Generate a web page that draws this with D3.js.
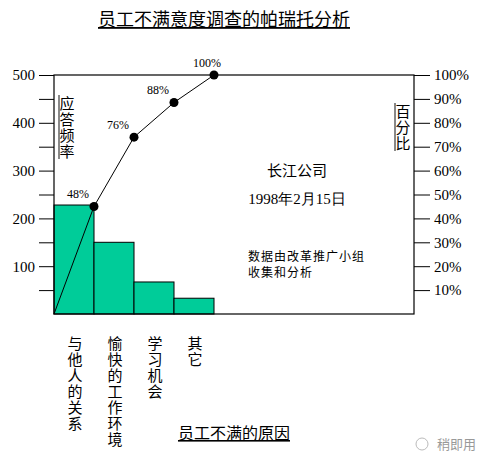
<!DOCTYPE html>
<html>
<head>
<meta charset="utf-8">
<script src="https://cdn.jsdelivr.net/npm/d3@7"></script>
<style>
  body { margin: 0; background: #fff; }
  svg { display: block; }
</style>
</head>
<body>
<svg id="chart"></svg>
<script>
// chart data
const categories = ["与他人的关系", "愉快的工作环境", "学习机会", "其它"];
const counts = [228, 150, 67, 33];
const cumPct = [45, 74, 88.5, 100];
const cumLabels = ["48%", "76%", "88%", "100%"];
const leftTicks = [50, 100, 150, 200, 250, 300, 350, 400, 450, 500];
const leftLabels = [100, 200, 300, 400, 500];
const rightTicks = [10, 20, 30, 40, 50, 60, 70, 80, 90, 100];

const W = 489, H = 466;
const plot = { left: 54, right: 414, top: 75, bottom: 314 };
const cjk = "'Noto Sans CJK SC', sans-serif";
const serif = "'Liberation Serif', 'Times New Roman', serif";

const svg = d3.select("#chart").attr("width", W).attr("height", H);

const x = d3.scaleBand().domain(d3.range(9)).range([plot.left, plot.right]).padding(0);
const yL = d3.scaleLinear().domain([0, 500]).range([plot.bottom, plot.top]);
const yR = d3.scaleLinear().domain([0, 100]).range([plot.bottom, plot.top]);

// title
svg.append("text").attr("x", 224).attr("y", 26).attr("text-anchor", "middle")
   .style("font-family", cjk).style("font-size", "18px")
   .attr("text-decoration", "underline").text("员工不满意度调查的帕瑞托分析");

// bars
svg.selectAll(".bar").data(counts).enter().append("rect")
   .attr("x", (d, i) => x(i)).attr("y", d => yL(d))
   .attr("width", x.bandwidth()).attr("height", d => yL(0) - yL(d))
   .attr("fill", "#00cc99").attr("stroke", "#000").attr("stroke-width", 1);

// plot frame
svg.append("rect").attr("x", plot.left).attr("y", plot.top)
   .attr("width", plot.right - plot.left).attr("height", plot.bottom - plot.top)
   .attr("fill", "none").attr("stroke", "#000").attr("stroke-width", 1.2);

// left axis
const gl = svg.append("g").attr("transform", `translate(${plot.left},0)`)
   .call(d3.axisLeft(yL).tickValues(leftTicks).tickSize(15).tickPadding(4)
      .tickFormat(d => leftLabels.includes(d) ? d : ""));
gl.select(".domain").remove();
gl.selectAll("line").attr("stroke", "#000");
gl.selectAll("text").style("font-family", serif).style("font-size", "15px").attr("fill", "#000");

// right axis
const gr = svg.append("g").attr("transform", `translate(${plot.right},0)`)
   .call(d3.axisRight(yR).tickValues(rightTicks).tickSize(16).tickPadding(4)
      .tickFormat(d => d + "%"));
gr.select(".domain").remove();
gr.selectAll("line").attr("stroke", "#000");
gr.selectAll("text").style("font-family", serif).style("font-size", "15px").attr("fill", "#000");

// cumulative line
const pts = [[plot.left, yR(0)]].concat(cumPct.map((p, i) => [x(i) + x.bandwidth(), yR(p)]));
svg.append("path").attr("d", d3.line()(pts)).attr("fill", "none")
   .attr("stroke", "#000").attr("stroke-width", 1);
svg.selectAll(".pt").data(cumPct).enter().append("circle")
   .attr("cx", (d, i) => x(i) + x.bandwidth()).attr("cy", d => yR(d))
   .attr("r", 4.5).attr("fill", "#000");
svg.selectAll(".pl").data(cumPct).enter().append("text")
   .attr("x", (d, i) => x(i) + x.bandwidth() - (i === 3 ? 7 : 5))
   .attr("y", d => yR(d) - 8)
   .attr("text-anchor", (d, i) => i === 3 ? "middle" : "end")
   .style("font-family", serif).style("font-size", "12px")
   .text((d, i) => cumLabels[i]);

// vertical text
function vtext(str, cx, top) {
  svg.append("text").attr("x", cx).attr("y", top)
     .style("writing-mode", "vertical-rl").style("text-orientation", "upright")
     .style("font-family", cjk).style("font-size", "15px").style("letter-spacing", "1px")
     .text(str);
}

// axis titles
svg.append("rect").attr("x", 58).attr("y", 95).attr("width", 2).attr("height", 64).attr("fill", "#888");
vtext("应答频率", 67, 96);
svg.append("rect").attr("x", 394).attr("y", 103).attr("width", 2).attr("height", 48).attr("fill", "#888");
vtext("百分比", 403, 104);

// category labels
categories.forEach((c, i) => vtext(c, x(i) + x.bandwidth() / 2 + 1, 336));

svg.append("text").attr("x", 234).attr("y", 439).attr("text-anchor", "middle")
   .style("font-family", cjk).style("font-size", "16px")
   .attr("text-decoration", "underline").text("员工不满的原因");

// annotations
svg.append("text").attr("x", 297).attr("y", 176).attr("text-anchor", "middle")
   .style("font-family", cjk).style("font-size", "15px").text("长江公司");
svg.append("text").attr("x", 297).attr("y", 204).attr("text-anchor", "middle")
   .style("font-family", serif).style("font-size", "15px").text("1998年2月15日");
svg.append("text").attr("x", 248).attr("y", 261)
   .style("font-family", cjk).style("font-size", "12px").style("letter-spacing", "1px").text("数据由改革推广小组");
svg.append("text").attr("x", 248).attr("y", 277)
   .style("font-family", cjk).style("font-size", "12px").style("letter-spacing", "1px").text("收集和分析");

// watermark
svg.append("text").attr("x", 437).attr("y", 449)
   .style("font-family", cjk).style("font-size", "13px").attr("fill", "#999").text("稍即用");
svg.append("circle").attr("cx", 422).attr("cy", 444).attr("r", 6).attr("fill", "none").attr("stroke", "#bbb");
</script>
</body>
</html>
